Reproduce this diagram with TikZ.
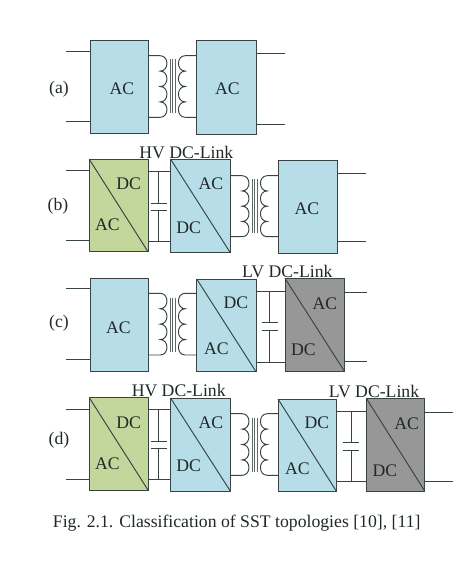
\documentclass[tikz,border=0pt]{standalone}
\usepackage{fontspec}
\setmainfont{Liberation Serif}
\definecolor{acblue}{HTML}{B7DDE8}
\definecolor{hvgreen}{HTML}{C3D69B}
\definecolor{lvgrey}{HTML}{979797}
\definecolor{wire}{HTML}{384444}
\definecolor{ink}{HTML}{20282A}
\tikzset{
  convbox/.style={draw=wire,line width=0.95pt,inner sep=0pt,outer sep=0pt,rectangle},
  wireline/.style={draw=wire,line width=0.95pt},
  coreline/.style={draw=wire!80,line width=0.9pt},
  lab/.style={font=\fontsize{17.7}{20}\selectfont,text=ink,inner sep=0pt},
  captiontext/.style={font=\fontsize{17.7}{20}\selectfont,text=ink,inner sep=0pt}
}
% name x1 y1 x2 y2 colour
\newcommand{\convb}[6]{\node[convbox,fill=#6,minimum width={#4-#2},minimum height={#5-#3}] (#1) at ({(#2+#4)/2},{(#3+#5)/2}) {};}
\newcommand{\diagl}[1]{\draw[wireline] (#1.north west) -- (#1.south east);}
% free lead: anchor of box, y, free x
\newcommand{\leadl}[3]{\coordinate (free) at (#3,#2); \draw[wireline] (free) -- (#1 |- free);}
% link between two boxes at height y
\newcommand{\busl}[3]{\coordinate (lvl) at (0,#3); \draw[wireline] (#1.east |- lvl) -- (#2.west |- lvl);}
% left box, right box, ytop, ybot, core centre x, core top, core bottom
\newcommand{\xfmr}[7]{%
  \coordinate (ct) at (#5,#3); \coordinate (cb) at (#5,#4);
  \pgfmathsetmacro{\st}{(#4-#3)/4}
  \pgfmathsetmacro{\xa}{#5-12.5}\pgfmathsetmacro{\xb}{#5+12.5}
  \pgfmathsetmacro{\xaa}{#5-3.5}\pgfmathsetmacro{\xbb}{#5+3.5}
  \pgfmathsetmacro{\ya}{#3+\st}\pgfmathsetmacro{\yb}{#3+2*\st}\pgfmathsetmacro{\yc}{#3+3*\st}
  \draw[wireline] (#1.east |- ct) -- (\xa,#3)
    .. controls (\xaa,#3) and (\xaa,\ya) .. (\xa,\ya)
    .. controls (\xaa,\ya) and (\xaa,\yb) .. (\xa,\yb)
    .. controls (\xaa,\yb) and (\xaa,\yc) .. (\xa,\yc)
    .. controls (\xaa,\yc) and (\xaa,#4) .. (\xa,#4) -- (#1.east |- cb);
  \draw[wireline] (#2.west |- ct) -- (\xb,#3)
    .. controls (\xbb,#3) and (\xbb,\ya) .. (\xb,\ya)
    .. controls (\xbb,\ya) and (\xbb,\yb) .. (\xb,\yb)
    .. controls (\xbb,\yb) and (\xbb,\yc) .. (\xb,\yc)
    .. controls (\xbb,\yc) and (\xbb,#4) .. (\xb,#4) -- (#2.west |- cb);
  \draw[coreline] ({#5-2.7},#6) -- ({#5-2.7},#7) (#5,#6) -- (#5,#7) ({#5+2.7},#6) -- ({#5+2.7},#7);
}
% x, ytop, ybot, plate1 y, plate2 y
\newcommand{\capa}[5]{%
  \draw[wireline] (#1,#2) -- (#1,#4) (#1,#5) -- (#1,#3);
  \draw[wireline] ({#1-7.8},#4) -- ({#1+7.8},#4) ({#1-7.8},#5) -- ({#1+7.8},#5);
}
\begin{document}
\begin{tikzpicture}[x=1pt,y=-1pt]
\useasboundingbox[fill=white] (0,0) rectangle (474,566);
% (a)
\convb{a1}{90}{40}{148.7}{133}{acblue}
\convb{a2}{196.7}{40}{256}{134}{acblue}
\leadl{a1.west}{51}{66}\leadl{a1.west}{121.3}{66}
\leadl{a2.east}{53.7}{285}\leadl{a2.east}{124}{285}
\xfmr{a1}{a2}{55.7}{117.3}{172.7}{59.3}{113.3}
\node[lab] (ta) at (59,89) {(a)};
\node[lab] (ta1) at (122,89) {AC};
\node[lab] (ta2) at (227.3,89) {AC};
% (b)
\convb{b1}{89.3}{159.3}{148}{251.7}{hvgreen}\diagl{b1}
\convb{b2}{170.7}{159.3}{230.3}{252.7}{acblue}\diagl{b2}
\convb{b3}{278}{160}{337}{253}{acblue}
\leadl{b1.west}{170.3}{66}\leadl{b1.west}{240.7}{66}
\leadl{b3.east}{173}{366}\leadl{b3.east}{241}{366}
\busl{b1}{b2}{171}\busl{b1}{b2}{241.7}
\capa{158.7}{171}{241.7}{203}{210.3}
\xfmr{b2}{b3}{175.7}{236.7}{254.7}{179.3}{233.3}
\node[lab] (tb) at (58,206.7) {(b)};
\node[lab] (tb1) at (128.7,183.7) {DC};
\node[lab] (tb2) at (107.3,224.3) {AC};
\node[lab] (tb3) at (211,183.7) {AC};
\node[lab] (tb4) at (188.7,227.3) {DC};
\node[lab] (tb5) at (307,209) {AC};
\node[lab] (tb6) at (186.3,152.7) {HV DC-Link};
% (c)
\convb{c1}{90}{278.3}{148.7}{371}{acblue}
\convb{c2}{196.7}{279}{256}{371.7}{acblue}\diagl{c2}
\convb{c3}{285}{278.3}{344.3}{371}{lvgrey}\diagl{c3}
\leadl{c1.west}{288.7}{66}\leadl{c1.west}{359.3}{66}
\leadl{c3.east}{292.3}{366.7}\leadl{c3.east}{361.7}{366.7}
\xfmr{c1}{c2}{293.3}{355}{172.7}{297.7}{351.7}
\busl{c2}{c3}{291.3}\busl{c2}{c3}{362}
\capa{269.7}{291.3}{362}{322.3}{330.7}
\node[lab] (tc) at (59,323.3) {(c)};
\node[lab] (tc1) at (118.3,327.3) {AC};
\node[lab] (tc2) at (236,302.3) {DC};
\node[lab] (tc3) at (216.3,348.7) {AC};
\node[lab] (tc4) at (325,303.3) {AC};
\node[lab] (tc5) at (303.3,350) {DC};
\node[lab] (tc6) at (287.3,271) {LV DC-Link};
% (d)
\convb{d1}{89.3}{397.7}{148}{490}{hvgreen}\diagl{d1}
\convb{d2}{170.7}{398.3}{230.3}{491}{acblue}\diagl{d2}
\convb{d3}{278}{399}{336.7}{491.7}{acblue}\diagl{d3}
\convb{d4}{366.3}{398.3}{424.7}{491}{lvgrey}\diagl{d4}
\leadl{d1.west}{409}{66}\leadl{d1.west}{479}{66}
\leadl{d4.east}{412}{453}\leadl{d4.east}{481.7}{453}
\busl{d1}{d2}{409}\busl{d1}{d2}{479.7}
\capa{158.7}{409}{479.7}{441}{448.3}
\xfmr{d2}{d3}{413.7}{475.3}{254.7}{418.3}{471.7}
\busl{d3}{d4}{411.3}\busl{d3}{d4}{481.7}
\capa{351}{411.3}{481.7}{442.7}{450.7}
\node[lab] (td) at (59,440.7) {(d)};
\node[lab] (td1) at (128.7,422.3) {DC};
\node[lab] (td2) at (107.3,464) {AC};
\node[lab] (td3) at (211,422.3) {AC};
\node[lab] (td4) at (188.7,465.7) {DC};
\node[lab] (td5) at (317,422.3) {DC};
\node[lab] (td6) at (297.3,469) {AC};
\node[lab] (td7) at (406.7,423.3) {AC};
\node[lab] (td8) at (385,470.7) {DC};
\node[lab] (td9) at (178.7,390.7) {HV DC-Link};
\node[lab] (td10) at (374,391.3) {LV DC-Link};
% caption
\node[captiontext] (cp) at (236.7,523.3) {Fig. 2.1. Classification of SST topologies [10], [11]};
\end{tikzpicture}
\end{document}
